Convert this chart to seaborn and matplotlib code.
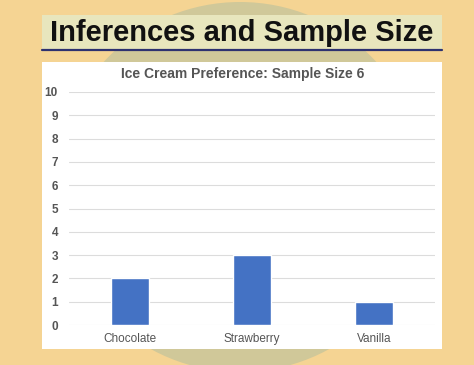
import matplotlib
matplotlib.use("Agg")
import matplotlib.pyplot as plt
import seaborn as sns
import pandas as pd
from matplotlib.patches import Rectangle, Ellipse
from matplotlib.lines import Line2D

flavors = ["Chocolate", "Strawberry", "Vanilla"]
counts = [2, 3, 1]
y_ticks = list(range(0, 11))
slide_title = "Inferences and Sample Size"
chart_title = "Ice Cream Preference: Sample Size 6"

W, H = 474, 365
sns.set_theme(style="white")
plt.rcParams['font.family'] = ['Liberation Sans', 'DejaVu Sans']

fig = plt.figure(figsize=(W / 100, H / 100), dpi=100)
fig.patch.set_facecolor("#f5d493")

def fx(x): return x / W
def fy(y): return 1 - y / H

# background circle
fig.patches.append(Ellipse((fx(240), fy(187)), 2 * 185 / W, 2 * 185 / H,
                           transform=fig.transFigure, facecolor="#d0c899",
                           edgecolor="none", zorder=0))
# title banner
fig.patches.append(Rectangle((fx(42), fy(50)), (442 - 42) / W, (50 - 15) / H,
                             transform=fig.transFigure, facecolor="#e8e6bd",
                             edgecolor="none", zorder=1))
fig.lines.append(Line2D([fx(42), fx(442)], [fy(49.5), fy(49.5)],
                        transform=fig.transFigure, color="#2e3270", lw=1.6, zorder=2))
fig.text(fx(242), fy(33), slide_title, ha="center", va="center",
         fontsize=21, fontweight="bold", color="#111111", zorder=3)
# white chart panel
fig.patches.append(Rectangle((fx(42), fy(349)), (442 - 42) / W, (349 - 62) / H,
                             transform=fig.transFigure, facecolor="white",
                             edgecolor="none", zorder=1))

ax = fig.add_axes([fx(69), fy(325), (435 - 69) / W, (325 - 92) / H])
ax.set_zorder(3)
ax.patch.set_alpha(0)
df = pd.DataFrame({"flavor": flavors, "count": counts})
sns.barplot(data=df, x="flavor", y="count", color="#4472c4", width=0.31,
            saturation=1, ax=ax, zorder=3)
ax.set_xlim(-0.5, 2.5)
ax.set_ylim(0, 10)
ax.set_yticks(y_ticks)
ax.yaxis.grid(True, color="#dcdcdc", lw=0.8)
ax.set_axisbelow(True)
for s in ax.spines.values():
    s.set_visible(False)
ax.set_xlabel("")
ax.set_ylabel("")
ax.tick_params(axis="y", length=0, pad=8, labelsize=8.5, labelcolor="#555555")
ax.tick_params(axis="x", length=0, pad=6, labelsize=8.5, labelcolor="#555555")
for t in ax.get_yticklabels():
    t.set_fontweight("bold")
fig.text(fx(243), fy(74), chart_title, ha="center", va="center",
         fontsize=10, fontweight="bold", color="#555555", zorder=4)

fig.savefig("out.png", dpi=100, facecolor=fig.get_facecolor())
